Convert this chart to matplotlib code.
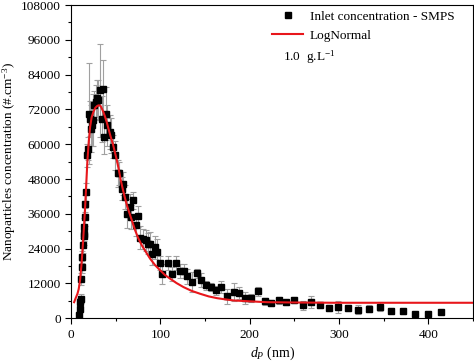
import matplotlib
matplotlib.use("Agg")
import matplotlib.pyplot as plt
from matplotlib.ticker import MultipleLocator

plt.rcParams['font.family'] = ['Liberation Serif', 'DejaVu Serif']
plt.rcParams['mathtext.fontset'] = 'custom'
plt.rcParams['mathtext.rm'] = 'Liberation Serif'
plt.rcParams['mathtext.it'] = 'Liberation Serif:italic'

# SMPS measurements: diameter (nm), concentration (#/cm3), error
dp = [9, 10, 10.5, 11, 11.6, 11.8, 12.3, 13, 14, 14.5, 15, 15.3, 16, 17, 18.3, 18.7,
      19.8, 20.9, 22, 23.5, 25, 26.1, 27.6, 29.5, 30.6, 32.5, 34.4, 36.2, 37.3, 39.2,
      40.7, 43, 44.8, 46.7, 48.9, 52, 53.5, 56.8, 58.6, 60.5, 62.4, 65.4, 67.6, 69.8,
      72.8, 75, 77.3, 81, 83.7, 85.9, 88.5, 90.4, 93.4, 96, 99.7, 102.3, 108.3, 112.8,
      117.3, 121.4, 125.9, 130.3, 135.2, 140.8, 145.7, 150.9, 156.9, 162.5, 168.1,
      174.4, 181.9, 187.9, 194.2, 201.3, 208.8, 216.6, 224.1, 232.7, 240.9, 249.9,
      259.2, 268.9, 278.2, 288.3, 298.8, 310, 321.6, 333.5, 345.8, 358.2, 371.6,
      385.4, 399.6, 414.2]
conc = [920, 3200, 5500, 6700, 13600, 17600, 21000, 25100, 28200, 29100, 31400, 34900,
        39500, 43500, 56200, 58500, 70600, 68800, 65400, 66500, 68300, 73500, 74600,
        75800, 75200, 78600, 68800, 79200, 62500, 70600, 66500, 64200, 63100, 59100,
        56200, 49900, 49900, 44700, 46400, 41800, 36000, 38300, 34900, 40600, 32000,
        35100, 27700, 27400, 26800, 25700, 25700, 22000, 24500, 22800, 19000, 15300,
        19000, 15300, 19000, 16200, 16200, 14400, 12400, 15500, 13200, 11300, 10700,
        9600, 10700, 7500, 9000, 8600, 6900, 6900, 9300, 5800, 5200, 6100, 5400, 6300,
        4400, 5500, 4400, 3600, 3800, 3500, 2900, 3200, 4000, 2600, 2300, 1300, 1500,
        2100]
err = [800, 1200, 1500, 1500, 2000, 2000, 2000, 2500, 3000, 2500, 3000, 3000,
       3000, 3000, 4000, 4000, 17500, 6000, 8000, 7000, 9000, 5000, 6000,
       6500, 7000, 16000, 8000, 10000, 6000, 9000, 7000, 6000, 6000, 4000,
       5000, 4500, 4000, 4000, 4000, 4000, 5000, 4500, 4000, 3000, 3500,
       3500, 4000, 3500, 3500, 3500, 4000, 3500, 4000, 4500, 2500, 3500,
       2500, 2500, 2500, 2500, 2500, 2500, 3500, 1500, 2500, 1500, 1500,
       1500, 2000, 2500, 3000, 2000, 2000, 1500, 1500, 1200, 1000, 1200, 1000, 1000,
       1500, 2000, 1000, 1000, 2000, 1000, 1500, 1200, 1500, 800, 800, 800, 800,
       800]

# LogNormal fit, points
fit_x = [3.4, 5, 7.1, 8.5, 10, 11.5, 13, 14.5, 15.7, 17, 18.3, 19.8, 21.3, 23, 25, 27,
         28.8, 30.5, 31.7, 33, 34.4, 36, 38.1, 40, 41.8, 44, 46.7, 49, 51.2, 53.5, 55.6,
         58, 60.5, 63, 66.1, 69, 71.7, 75, 79.2, 84, 88.5, 94, 99.7, 105, 110.9, 118,
         125.9, 135, 144.5, 154, 163.2, 172, 181.9, 200, 219.2, 250, 294, 350, 400, 451]
fit_y = [5500, 6800, 8400, 10000, 13000, 18000, 24500, 32000, 38300, 46500, 54500,
         61000, 66000, 69300, 71200, 72500, 73100, 73400, 73400, 73200, 72300, 71200,
         69400, 67500, 65400, 62900, 60200, 57300, 54500, 51100, 47600, 44300, 41200,
         38400, 35500, 32800, 30300, 27700, 25100, 22700, 20500, 18300, 16500, 14900,
         13600, 12100, 10700, 9400, 8400, 7500, 6900, 6500, 6100, 5800, 5500, 5400,
         5300, 5300, 5300, 5300]

fig = plt.figure(figsize=(4.74, 3.64), dpi=100)
ax = fig.add_axes([0.150, 0.126, 0.848, 0.860])

ax.errorbar(dp, conc, yerr=err, fmt='none', ecolor='#a0a0a0', elinewidth=0.8,
            capsize=2.5, capthick=0.8, zorder=2)
ax.plot(dp, conc, 's', color='black', markersize=5, zorder=3,
        label='Inlet concentration - SMPS')
ax.plot(fit_x, fit_y, '-', color='#e8161b', linewidth=1.5, zorder=4, label='LogNormal')

ax.set_xlim(0, 450)
ax.set_ylim(0, 108000)
ax.xaxis.set_major_locator(MultipleLocator(100))
ax.xaxis.set_minor_locator(MultipleLocator(50))
ax.yaxis.set_major_locator(MultipleLocator(12000))
ax.yaxis.set_minor_locator(MultipleLocator(6000))
ax.tick_params(which='major', direction='out', length=4, width=0.8, labelsize=9.5)
ax.tick_params(which='minor', direction='out', length=2.5, width=0.8)

ax.set_xlabel('$d_P$ (nm)', fontsize=10, labelpad=3)
ax.set_ylabel('Nanoparticles concentration (#.cm$^{-3}$)', fontsize=9.5, labelpad=2)

leg = ax.legend(loc='upper left', frameon=False, fontsize=9.5, handlelength=2.4,
                handletextpad=0.5, borderpad=0, borderaxespad=0,
                bbox_to_anchor=(0.499, 0.982), labelspacing=0.5)
ax.text(0.526, 0.834, '1.0  g.L$^{-1}$', transform=ax.transAxes, fontsize=9.5,
        va='center', ha='left')

fig.savefig('out.png', dpi=100)
